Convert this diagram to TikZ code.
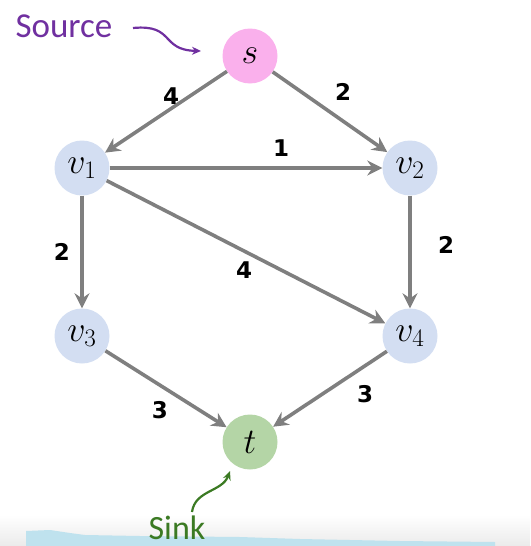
\RequirePackage{fix-cm}
\documentclass[tikz,border=0pt]{standalone}
\usepackage{fontspec}
\newfontfamily\calib{Carlito}
\newfontfamily\labfont{DejaVu Sans}
\usetikzlibrary{arrows.meta,shapes.geometric}
\definecolor{edgegray}{HTML}{7F7F7F}
\definecolor{spink}{HTML}{FAB0EC}
\definecolor{vblue}{HTML}{D3DEF2}
\definecolor{tgreen}{HTML}{B4D5A6}
\definecolor{srcpurple}{HTML}{7030A0}
\definecolor{sinkgreen}{HTML}{3B7A23}
\definecolor{stripblue}{HTML}{BFE2EE}
\begin{document}
\begin{tikzpicture}[x=1pt,y=-1pt,
  vert/.style={circle,minimum size=55pt,inner sep=0pt,font=\fontsize{36}{36}\selectfont},
  edge/.style={draw=edgegray,line width=3.6pt,-{Stealth[length=15pt,width=15pt,inset=5pt]}},
  wlab/.style={font=\labfont\bfseries\fontsize{23}{23}\selectfont,inner sep=0pt}]
\useasboundingbox (0,0) rectangle (530,546);
% bottom strip
\shade[top color=white,bottom color=black!8] (0,515) rectangle (530,546);
\fill[stripblue] (26,531) -- (50,530) -- (70,533) -- (85,535) -- (140,536) -- (240,537) -- (300,539) -- (400,541) -- (495,542) -- (495,546) -- (26,546) -- cycle;
% nodes
\node[vert,fill=spink] (s) at (250,56) {$s$};
\node[vert,fill=vblue] (v1) at (82,168) {$v_1$};
\node[vert,fill=vblue] (v2) at (410,168) {$v_2$};
\node[vert,fill=vblue] (v3) at (82,336) {$v_3$};
\node[vert,fill=vblue] (v4) at (410,336) {$v_4$};
\node[vert,fill=tgreen] (t) at (250,442) {$t$};
% edges
\draw[edge] (s) -- (v1);
\draw[edge] (s) -- (v2);
\draw[edge] (v1) -- (v2);
\draw[edge] (v1) -- (v3);
\draw[edge] (v1) -- (v4);
\draw[edge] (v2) -- (v4);
\draw[edge] (v3) -- (t);
\draw[edge] (v4) -- (t);
% weights
\node[wlab] (w1) at (171,96) {4};
\node[wlab] (w2) at (343,92) {2};
\node[wlab] (w3) at (281,148) {1};
\node[wlab] (w4) at (62,252) {2};
\node[wlab] (w5) at (244,270) {4};
\node[wlab] (w6) at (446,245) {2};
\node[wlab] (w7) at (160,410) {3};
\node[wlab] (w8) at (365,394) {3};
% annotations
\node[text=srcpurple,font=\calib\fontsize{35}{35}\selectfont,inner sep=0pt,anchor=base] (src) at (64,37) {Source};
\coordinate (srcA) at (133,28);
\coordinate (srcB) at (201,51);
\draw[srcpurple,line width=2.2pt,-{Stealth[length=9pt,width=8pt]}] (srcA) .. controls (175,24) and (160,50) .. (srcB);
\node[text=sinkgreen,font=\calib\fontsize{34}{34}\selectfont,inner sep=0pt,anchor=base] (sink) at (177,539) {Sink};
\coordinate (snkA) at (192,512);
\coordinate (snkB) at (230,471);
\draw[sinkgreen,line width=2.2pt,-{Stealth[length=9pt,width=8pt]}] (snkA) .. controls (195,490) and (222,492) .. (snkB);
\end{tikzpicture}
\end{document}
